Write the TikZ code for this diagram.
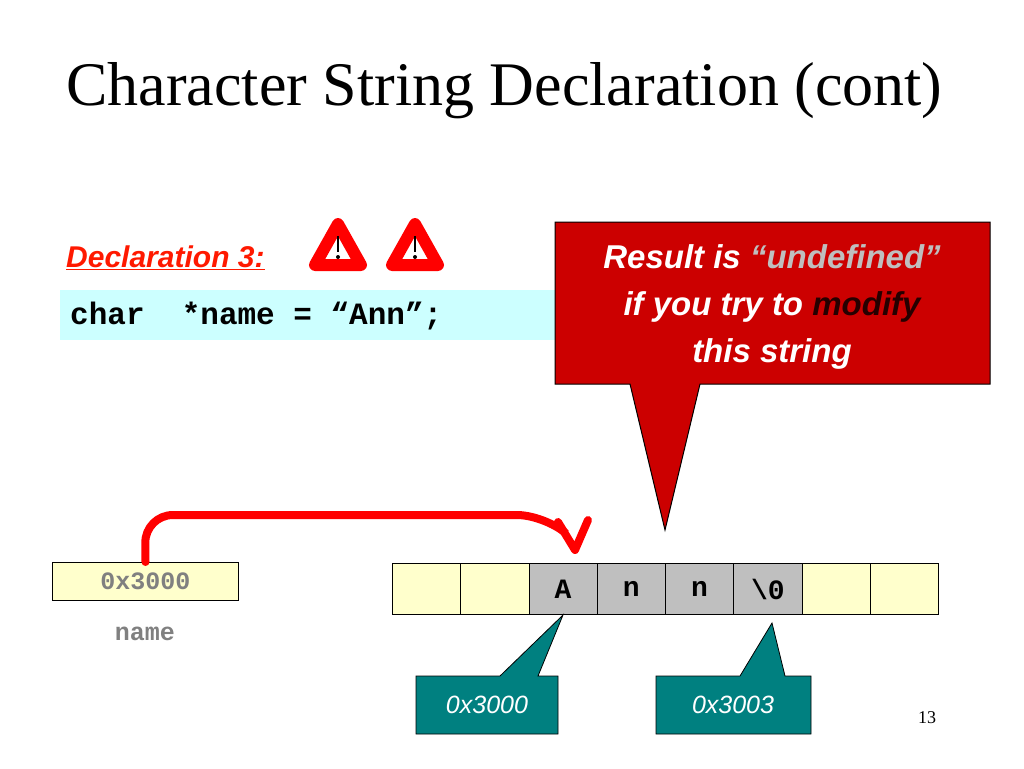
\documentclass[tikz,border=0pt]{standalone}
\usepackage{fontspec}
\setmainfont{Liberation Serif}
\newfontfamily\arialf{Liberation Sans}
\newfontfamily\courf{Liberation Mono}
\definecolor{tealc}{HTML}{008080}
\definecolor{cyanc}{HTML}{CCFFFF}
\definecolor{yelc}{HTML}{FFFFCC}
\definecolor{redc}{HTML}{CC0000}
\begin{document}
\begin{tikzpicture}[x=1pt,y=-1pt,
  cell/.style={draw=black,line width=1pt,minimum width=68.25pt,minimum height=51pt,inner sep=0pt,anchor=north west,font=\courf\bfseries\fontsize{28}{28}\selectfont},
  yel/.style={fill=yelc},
  gry/.style={fill=black!25},
  tealbox/.style={fill=tealc,draw=black,line width=0.8pt},
  tealtxt/.style={text=white,font=\arialf\itshape\fontsize{25}{25}\selectfont}]
\useasboundingbox (0,0) rectangle (1024,768);
\fill[white] (0,0) rectangle (1024,768);
\node[anchor=base west,inner sep=0pt,font=\fontsize{62}{62}\selectfont] (title) at (66,105) {Character String Declaration (cont)};
\node[anchor=west,inner sep=0pt,text=red!80!orange,font=\arialf\bfseries\itshape\fontsize{30}{30}\selectfont] (decl) at (66,258) {\underline{Declaration 3:}};
\foreach \x/\n in {338/w1,415/w2}{
  \draw[red,fill=white,line width=12pt,line join=round] (\x-23,265) -- (\x,224) -- (\x+23,265) -- cycle;
  \draw[black,line width=2.2pt] (\x,236) -- (\x,252);
  \fill[black] (\x,257) circle (2pt);
  \coordinate (\n) at (\x,245);
}
\node[fill=cyanc,minimum width=495pt,minimum height=50pt,anchor=north west,inner sep=0pt] (code) at (60,290) {};
\node[anchor=west,inner sep=0pt,font=\courf\bfseries\fontsize{31}{31}\selectfont] (codet) at (70,316) {char\ \ *name = “Ann”;};
\draw[fill=redc,draw=black,line width=1pt] (555,222) -- (990,222) -- (990,384) -- (700,384) -- (665,530) -- (630,384) -- (555,384) -- cycle;
\coordinate (tip) at (665,530);
\node[align=center,text=white,font=\arialf\bfseries\itshape\fontsize{33}{47}\selectfont] (ct) at (772,307) {Result is \textcolor{black!25}{“undefined”}\\ if you try to \textcolor{black!85!red}{modify}\\ this string};
\node[yel,draw=black,line width=1pt,minimum width=186pt,minimum height=38pt,anchor=north west,inner sep=0pt,text=black!50,font=\courf\bfseries\fontsize{25}{25}\selectfont] (nm) at (52,562) {0x3000};
\node[text=black!50,font=\courf\bfseries\fontsize{25}{25}\selectfont] (nml) at (145,634) {name};
\node[cell,yel] (c1) at (392,563) {};
\node[cell,yel] (c2) at (460.25,563) {};
\node[cell,gry] (c3) at (528.5,563) {A};
\node[cell,gry] (c4) at (596.75,563) {n};
\node[cell,gry] (c5) at (665,563) {n};
\node[cell,gry] (c6) at (733.25,563) {\textbackslash0};
\node[cell,yel] (c7) at (801.5,563) {};
\node[cell,yel] (c8) at (869.75,563) {};
\draw[red,line width=8pt,line cap=round,rounded corners=28pt] (nm.north) -- (145,515) -- (545,515) -- (562,530);
\draw[red,line width=8pt,line cap=round,line join=round] (558,522) -- (575,550) -- (588,520);
\draw[tealbox] (416,676) -- (500,676) -- (563,615) -- (538,676) -- (558,676) -- (558,734) -- (416,734) -- cycle;
\node[tealtxt] (t1) at (487,705) {0x3000};
\draw[tealbox] (656,676) -- (740,676) -- (772,623) -- (785,676) -- (811,676) -- (811,734) -- (656,734) -- cycle;
\node[tealtxt] (t2) at (733,705) {0x3003};
\node[font=\fontsize{18}{18}\selectfont] (pg) at (927,718) {13};
\end{tikzpicture}
\end{document}
